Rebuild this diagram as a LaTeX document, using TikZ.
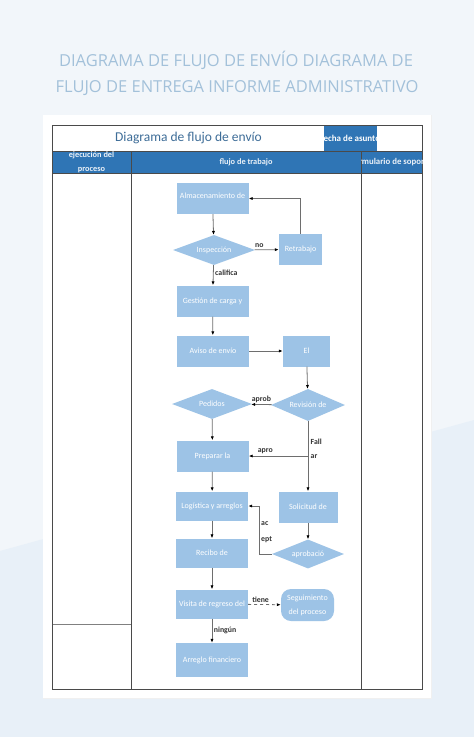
\documentclass[tikz,border=0pt]{standalone}
\usepackage{fontspec}
\setmainfont{Carlito}
\newfontfamily\headfont{Open Sans}
\usetikzlibrary{shapes.geometric,arrows.meta,calc}
\definecolor{bgtop}{HTML}{F2F6FA}
\definecolor{bgbot}{HTML}{E8F0F8}
\definecolor{headc}{HTML}{A3C1DA}
\definecolor{boxc}{HTML}{9DC3E6}
\definecolor{hdrblue}{HTML}{2F75B5}
\definecolor{titc}{HTML}{3E6D98}
\definecolor{gridc}{HTML}{4A4A4A}
\definecolor{linec}{HTML}{6E6E6E}
\tikzset{
  proc/.style={rectangle, fill=boxc, minimum width=72pt, minimum height=31pt, inner sep=1pt, text=white, font=\fontsize{8}{9}\selectfont},
  dec/.style={diamond, fill=boxc, aspect=2.7, minimum width=82pt, minimum height=30pt, inner sep=0pt, text=white, font=\fontsize{8}{9}\selectfont},
  arr/.style={draw=linec, line width=0.8pt, -{Latex[length=4pt,width=3.2pt,color=black]}},
  lbl/.style={font=\bfseries\fontsize{7.8}{8}\selectfont, text=black!80, inner sep=1.5pt},
  hdr/.style={font=\bfseries\fontsize{8.3}{9}\selectfont, text=white!90!hdrblue}
}
\begin{document}
\begin{tikzpicture}[x=1pt,y=-1pt]
\useasboundingbox (0,0) rectangle (474,737);
% background
\fill[bgtop] (0,0) rectangle (474,737);
\fill[bgbot] (0,551) -- (474,420) -- (474,737) -- (0,737) -- cycle;
% card
\fill[black!6] (42.5,114.5) rectangle (431.5,698.5);
\fill[white] (43,115) rectangle (431,698);
% heading
\node[font=\headfont\fontsize{16.5}{18}\selectfont, text=headc] (h1) at (236,60) {DIAGRAMA DE FLUJO DE ENVÍO DIAGRAMA DE};
\node[font=\headfont\fontsize{16.5}{18}\selectfont, text=headc] (h2) at (237,88) {FLUJO DE ENTREGA INFORME ADMINISTRATIVO};
% table
\fill[hdrblue] (324,125) rectangle (377,151);
\fill[hdrblue] (52,151) rectangle (422,173);
\draw[gridc, line width=0.7pt] (52,151) -- (422,151) (52,173) -- (422,173);
\draw[gridc, line width=0.7pt] (131,151) -- (131,689) (361,151) -- (361,689);
\draw[gridc!70, line width=0.7pt] (52,624) -- (131,624);
\draw[gridc, line width=1pt] (52,125) rectangle (422,689);
\node[font=\fontsize{13.5}{15}\selectfont, text=titc] (title) at (188.5,138) {Diagrama de flujo de envío};
\begin{scope}
\clip (324,125) rectangle (377,151);
\node[hdr, text=white, font=\bfseries\fontsize{9}{10}\selectfont] (fecha) at (350.5,138) {fecha de asunto};
\end{scope}
\begin{scope}
\clip (52,151.5) rectangle (131,172.5);
\node[hdr, align=center, font=\bfseries\fontsize{8.3}{14}\selectfont] (ejec) at (91.5,162) {ejecución del\\proceso};
\end{scope}
\node[hdr] (flujo) at (246,162) {flujo de trabajo};
\begin{scope}
\clip (361,151.5) rectangle (422,172.5);
\node[hdr, font=\bfseries\fontsize{8.8}{10}\selectfont] (form) at (391.5,162) {formulario de soporte};
\end{scope}
% flow nodes
\node[proc] (alm) at (212.5,198.5) {\raisebox{5pt}{Almacenamiento de}};
\node[dec] (insp) at (214,250) {Inspección};
\node[proc, minimum width=43pt] (ret) at (300.5,249.5) {Retrabajo};
\node[proc] (gest) at (212.5,301) {Gestión de carga y};
\node[proc] (aviso) at (213,351) {Aviso de envío};
\node[proc, minimum width=47pt] (el) at (306.5,351) {El};
\node[dec, minimum width=80pt] (ped) at (212,404) {Pedidos};
\node[dec, minimum width=74pt, minimum height=32pt, aspect=2.3] (rev) at (308,405) {Revisión de};
\node[proc] (prep) at (212.5,456) {Preparar la};
\node[proc, minimum height=29pt] (log) at (212,506) {Logística y arreglos};
\node[proc, minimum width=59pt] (sol) at (308,507) {Solicitud de};
\node[proc, minimum height=29pt] (rec) at (212,553) {Recibo de};
\node[dec, minimum width=72pt, minimum height=29pt, aspect=2.5] (apr) at (308,554) {aprobació};
\node[proc, minimum height=29pt] (vis) at (212,604) {Visita de regreso del};
\node[proc, minimum width=53pt, minimum height=32pt, rounded corners=10pt, align=center, font=\fontsize{8}{14}\selectfont] (seg) at (307.5,605) {Seguimiento\\del proceso};
\node[proc, minimum height=34pt] (fin) at (212,660) {Arreglo financiero};
% connectors
\draw[arr] (alm) -- (insp);
\draw[arr] (insp) -- node[lbl, above, pos=0.2] {no} (ret);
\draw[arr] (ret.north) |- (alm.east);
\draw[arr] (insp) -- node[lbl, right, pos=0.4] {califica} (gest);
\draw[arr] (gest) -- (aviso);
\draw[arr] (aviso) -- (el);
\draw[arr] (el) -- (rev);
\draw[arr] (rev) -- node[lbl, above] {aprob} (ped);
\draw[arr] (ped) -- (prep);
\draw[arr] (rev) -- (sol);
\coordinate (br) at (rev.south |- prep.east);
\draw[arr] (br) -- node[lbl, above, pos=0.72] {apro} (prep.east);
\node[lbl, anchor=west] (fall1) at (309,442) {Fall};
\node[lbl, anchor=west] (fall2) at (309,457) {ar};
\draw[arr] (prep) -- (log);
\draw[arr] (sol) -- (apr);
\coordinate (k) at (259,554);
\draw[arr] (apr.west) -- (k) |- (log.east);
\node[lbl, anchor=west] (ac1) at (259.5,524) {ac};
\node[lbl, anchor=west] (ac2) at (259.5,540) {ept};
\draw[arr] (log) -- (rec);
\draw[arr] (rec) -- (vis);
\draw[arr, dashed] (vis) -- node[lbl, above, pos=0.38] {tiene} (seg);
\draw[arr] (vis) -- node[lbl, right] {ningún} (fin);
\end{tikzpicture}
\end{document}
